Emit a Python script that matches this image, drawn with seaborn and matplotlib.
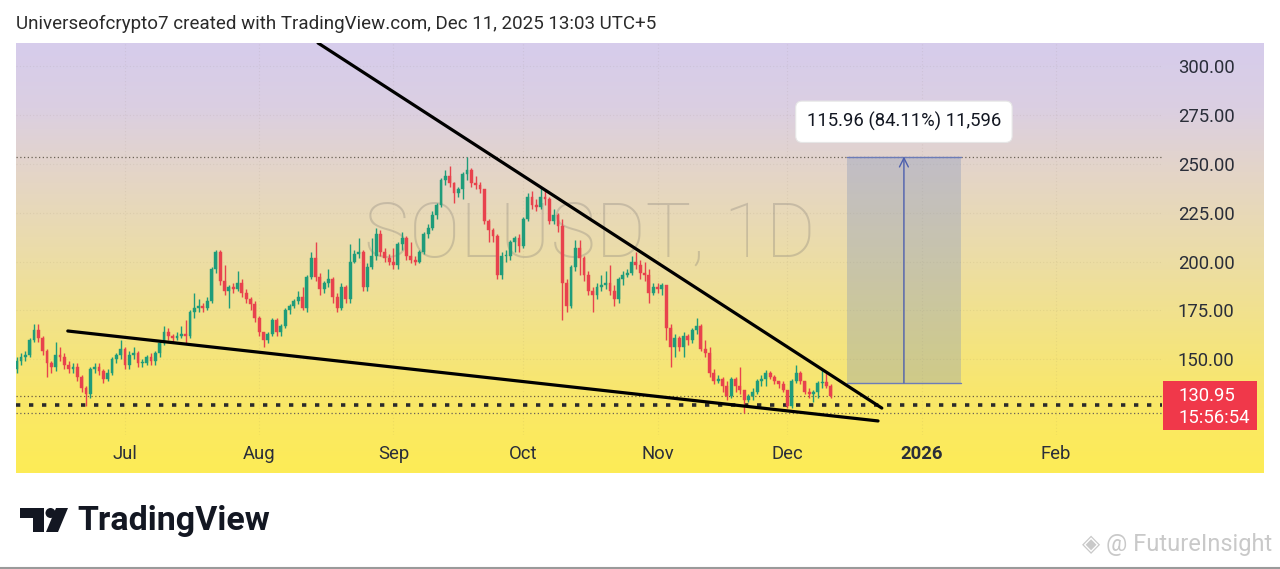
import numpy as np
import pandas as pd
import matplotlib
matplotlib.use("Agg")
import matplotlib.pyplot as plt
import matplotlib.dates as mdates
import seaborn as sns
from matplotlib.patches import Rectangle, Polygon, Ellipse
from matplotlib.lines import Line2D
from matplotlib.transforms import blended_transform_factory

sns.set_style("white")
plt.rcParams["font.family"] = ["Roboto", "DejaVu Sans"]

# ---------------- data (SOLUSDT daily) ----------------
start_date = "2025-06-06"
first_open = 145.0

closes_jun = [149, 151, 152, 160, 165, 161, 154, 148, 146, 152, 151, 147, 145, 146, 141, 135, 132, 145, 146, 144, 140, 143, 150, 152, 155]
highs_jun = [151, 153, 154, 161, 168, 168, 162, 155, 149, 159, 156, 153, 149, 148, 148, 142, 136, 146, 148, 148, 145, 145, 151, 153, 160]
lows_jun = [143, 147, 149, 151, 159, 159, 152, 141, 143, 144, 149, 145, 143, 143, 139, 133, 126, 130, 143, 142, 138, 139, 142, 148, 150]

closes_jul = [147, 152, 153, 148, 148, 151, 149, 153, 158, 164, 162, 161, 162, 163, 162, 174, 176, 177, 176, 180, 196, 205, 190, 185, 187, 186, 189, 184, 181, 178, 171]
highs_jul = [156, 154, 156, 154, 150, 152, 153, 154, 160, 167, 166, 163, 164, 167, 170, 175, 184, 181, 179, 182, 197, 206, 206, 198, 188, 189, 195, 191, 186, 182, 180]
lows_jul = [145, 145, 150, 146, 146, 147, 147, 147, 151, 157, 160, 159, 160, 161, 158, 161, 171, 174, 174, 175, 179, 194, 188, 183, 176, 184, 185, 182, 179, 175, 169]

closes_aug = [164, 160, 163, 170, 164, 167, 175, 177, 180, 182, 176, 192, 202, 192, 186, 189, 191, 182, 176, 187, 181, 200, 204, 205, 187, 197, 203, 214, 205, 202, 200]
highs_aug = [172, 164, 164, 171, 171, 168, 176, 178, 181, 185, 187, 193, 205, 210, 194, 190, 196, 192, 184, 189, 188, 209, 206, 212, 206, 199, 212, 217, 216, 207, 204]
lows_aug = [162, 156, 158, 162, 162, 162, 166, 173, 176, 178, 175, 174, 191, 190, 183, 184, 187, 179, 174, 175, 179, 179, 199, 202, 185, 185, 196, 201, 203, 200, 198]

closes_sep = [198, 209, 212, 203, 201, 200, 205, 214, 217, 224, 229, 242, 244, 240, 235, 237, 245, 247, 240, 239, 237, 221, 216, 213, 193, 203, 203, 210, 212, 208]
highs_sep = [207, 210, 215, 213, 210, 203, 206, 215, 219, 226, 230, 243, 247, 249, 241, 238, 246, 253.6, 248, 244, 241, 237, 222, 217, 214, 205, 206, 211, 213, 214]
lows_sep = [196, 196, 206, 201, 199, 198, 199, 204, 212, 216, 222, 228, 239, 238, 230, 233, 232, 242, 238, 237, 235, 219, 210, 210, 191, 191, 200, 201, 205, 205]

closes_oct = [222, 233, 229, 228, 233, 232, 221, 224, 218, 189, 177, 197, 207, 202, 193, 185, 183, 187, 188, 189, 185, 181, 191, 193, 194, 200, 198, 194, 193, 184, 187]
highs_oct = [223, 235, 236, 232, 238, 237, 233, 227, 225, 222, 191, 198, 211, 211, 203, 195, 187, 189, 193, 195, 198, 188, 192, 195, 196, 203, 205, 201, 200, 196, 189]
lows_oct = [207, 221, 227, 226, 227, 229, 219, 219, 215, 170, 174, 176, 195, 193, 190, 183, 174, 181, 185, 186, 183, 177, 179, 188, 192, 193, 196, 191, 190, 179, 183]

closes_nov = [186, 188, 166, 156, 161, 156, 162, 160, 165, 167, 155, 153, 143, 139, 140, 136, 131, 140, 136, 134, 129, 131, 133, 139, 140, 143, 141, 139, 137, 134]
highs_nov = [189, 189, 188, 168, 163, 162, 164, 163, 166, 171, 168, 160, 156, 145, 142, 141, 139, 141, 141, 146, 134, 132, 135, 140, 142, 144.5, 144, 142, 139, 139]
lows_nov = [184, 183, 160, 146, 151, 154, 151, 157, 158, 163, 154, 151, 141, 137, 138, 133, 129, 130, 133, 132, 122.5, 128, 129, 132, 136, 136, 140, 137, 135, 133]

closes_dec = [126, 139, 143, 139, 133, 132, 133, 138, 138.5, 136, 130.95]
highs_dec = [134, 140, 147, 144, 139, 135, 134, 139, 144.5, 143, 137]
lows_dec = [125, 125, 138, 137, 132, 130, 128, 130, 135, 135, 130]

# drawings
upper_trend_dates = ["2025-08-14 14:00", "2025-12-22 19:00"]
upper_trend_prices = [312.0, 124.9]
lower_trend_dates = ["2025-06-17 19:00", "2025-12-21 22:00"]
lower_trend_prices = [164.4, 118.3]
support_level = 126.5
measure_dates = ["2025-12-14 17:00", "2026-01-10 02:00"]
measure_low = 137.87
measure_high = 253.83

month_ticks = ["2025-07-01", "2025-08-01", "2025-09-01", "2025-10-01", "2025-11-01", "2025-12-01", "2026-01-01", "2026-02-01"]
month_labels = ["Jul", "Aug", "Sep", "Oct", "Nov", "Dec", "2026", "Feb"]
price_ticks = [150, 175, 200, 225, 250, 275, 300]

header = "Universeofcrypto7 created with TradingView.com, Dec 11, 2025 13:03 UTC+5"
countdown = "15:56:54"
symbol_text = "SOLUSDT, 1D"

# ---------------- assemble ----------------
closes = closes_jun + closes_jul + closes_aug + closes_sep + closes_oct + closes_nov + closes_dec
highs = highs_jun + highs_jul + highs_aug + highs_sep + highs_oct + highs_nov + highs_dec
lows = lows_jun + lows_jul + lows_aug + lows_sep + lows_oct + lows_nov + lows_dec
opens = [first_open] + closes[:-1]
dates = pd.date_range(start_date, periods=len(closes), freq="D")
df = pd.DataFrame({"date": dates, "open": opens, "high": highs, "low": lows, "close": closes})
df["x"] = mdates.date2num(df["date"])

UP = "#1f9c7a"
DOWN = "#e8424d"

W, H = 1280, 569
fig = plt.figure(figsize=(W / 100, H / 100), dpi=100)
fig.patch.set_facecolor("white")

def fx(px):
    return px / W

def fy(py):
    return 1 - py / H

# background gradient panel
bg = fig.add_axes([fx(16), fy(473), fx(1248), 430 / H])
stops = [(0.0, (214, 204, 236)), (0.15, (219, 207, 226)), (0.30, (228, 213, 200)),
         (0.50, (236, 221, 166)), (0.70, (244, 228, 128)), (0.85, (250, 232, 102)),
         (1.0, (253, 236, 86))]
n = 300
pos = np.linspace(0, 1, n)
grad = np.zeros((n, 1, 3))
for c in range(3):
    grad[:, 0, c] = np.interp(pos, [s[0] for s in stops], [s[1][c] / 255 for s in stops])
bg.imshow(grad, aspect="auto", extent=[0, 1, 0, 1], origin="upper")
bg.set_xlim(0, 1)
bg.set_ylim(0, 1)
bg.axis("off")

# main price axes
ax = fig.add_axes([fx(16), fy(435), fx(1146), 392 / H])
ax.set_facecolor("none")
for s in ax.spines.values():
    s.set_visible(False)

jul1 = pd.Timestamp("2025-07-01")
ax.set_xlim(mdates.date2num(jul1 - pd.Timedelta(days=25.17)), mdates.date2num(jul1 + pd.Timedelta(days=239.5)))
ax.set_ylim(111.1, 312.0)

# faint grid
ax.set_xticks(mdates.date2num(pd.to_datetime(month_ticks)))
ax.set_yticks(price_ticks)
ax.grid(True, color="#7a6a50", alpha=0.10, lw=0.8, ls=(0, (1, 2)))
ax.set_axisbelow(True)

# watermark
ax.text(0.501, 0.508, symbol_text, transform=ax.transAxes, ha="center", va="center",
        fontsize=55, color="#857f78", alpha=0.32, fontweight="light", zorder=0.5)

# horizontal levels
hi_max = max(highs)
lo_min = min(lows)
last = closes[-1]
ax.axhline(hi_max, color="#6b6256", lw=0.9, ls=(0, (1, 2)), zorder=1)
ax.axhline(lo_min, color="#6b6256", lw=0.9, ls=(0, (1, 2)), zorder=1)
ax.axhline(last, color="#6b5a40", lw=0.9, ls=(0, (1, 2)), zorder=1)
ax.axhline(support_level, color="#2b2b2b", lw=2.6, ls=(0, (1.2, 2.4)), zorder=1)

# candles
colors = np.where(df["close"] >= df["open"], UP, DOWN)
ax.vlines(df["x"], df["low"], df["high"], colors=colors, lw=1.0, zorder=3)
body_bottom = np.minimum(df["open"], df["close"])
body_h = np.maximum(np.abs(df["close"] - df["open"]), 0.4)
ax.bar(df["x"], body_h, bottom=body_bottom, width=0.66, color=colors, edgecolor=colors, lw=0.3, zorder=4)

# trendlines (seaborn)
trend = pd.DataFrame({
    "x": list(mdates.date2num(pd.to_datetime(upper_trend_dates))) + list(mdates.date2num(pd.to_datetime(lower_trend_dates))),
    "y": upper_trend_prices + lower_trend_prices,
    "line": ["upper", "upper", "lower", "lower"],
})
sns.lineplot(data=trend, x="x", y="y", units="line", estimator=None, color="black", lw=2.3, ax=ax,
             legend=False, zorder=5)
ax.set_xlabel("")
ax.set_ylabel("")

# measurement box
m0, m1 = mdates.date2num(pd.to_datetime(measure_dates))
mid = (m0 + m1) / 2
ax.add_patch(Rectangle((m0, measure_low), m1 - m0, measure_high - measure_low,
                       facecolor="#7f92b8", alpha=0.33, edgecolor="none", zorder=2))
ax.plot([m0, m1], [measure_high, measure_high], color="#6c7cb8", lw=1.0, zorder=3)
ax.plot([m0, m1], [measure_low, measure_low], color="#6c7cb8", lw=1.0, zorder=3)
ax.annotate("", xy=(mid, measure_high), xytext=(mid, measure_low),
            arrowprops=dict(arrowstyle="->", color="#4d5fae", lw=1.0, mutation_scale=16,
                            shrinkA=0, shrinkB=0), zorder=4)
diff = measure_high - measure_low
pct = diff / measure_low * 100
ax.annotate(f"{diff:.2f} ({pct:.2f}%) {diff * 100:,.0f}", xy=(mid, measure_high), xytext=(0, 25),
            textcoords="offset points", ha="center", va="center", fontsize=13.3, color="#131722",
            bbox=dict(boxstyle="round,pad=0.6,rounding_size=0.35", fc="white", ec="#e6e6e6", lw=0.8),
            zorder=6)

# axis tick labels
ax.yaxis.tick_right()
ax.set_yticklabels([f"{v:.2f}" for v in price_ticks])
ax.tick_params(axis="y", length=0, pad=11.5, labelsize=13.3, labelcolor="#2a2e39")
ax.set_xticklabels(month_labels)
ax.tick_params(axis="x", length=0, pad=7, labelsize=13.3, labelcolor="#2a2e39")
for lbl in ax.get_xticklabels():
    if lbl.get_text() == "2026":
        lbl.set_fontweight("bold")

# last price label
ppu = 392 / (312.0 - 111.1)
tr = blended_transform_factory(ax.transAxes, ax.transData)
ax.add_patch(Rectangle((1.0009, last - 34 / ppu), 0.082, 49 / ppu, transform=tr,
                       facecolor="#f0384a", edgecolor="none", clip_on=False, zorder=6))
ax.text(1.0140, last, f"{last:.2f}", transform=tr, ha="left", va="center", fontsize=13.3,
        color="white", clip_on=False, zorder=7)
ax.text(1.0140, last - 22 / ppu, countdown, transform=tr, ha="left", va="center", fontsize=13.3,
        color="white", clip_on=False, zorder=7)

# header
fig.text(fx(16), fy(24), header, ha="left", va="center", fontsize=13.5, color="#2a2a2a")

# TradingView logo
fig.add_artist(Polygon([(fx(20), fy(508)), (fx(44), fy(508)), (fx(44), fy(532)), (fx(33), fy(532)),
                        (fx(33), fy(518)), (fx(20), fy(518))], closed=True, transform=fig.transFigure,
                       facecolor="#131722", edgecolor="none"))
fig.add_artist(Ellipse((fx(50.5), fy(513)), 10 / W, 10 / H, transform=fig.transFigure,
                       facecolor="#131722", edgecolor="none"))
fig.add_artist(Polygon([(fx(56), fy(508)), (fx(68), fy(508)), (fx(58), fy(532)), (fx(46), fy(532))],
                       closed=True, transform=fig.transFigure, facecolor="#131722", edgecolor="none"))
fig.text(fx(77), fy(521), "TradingView", ha="left", va="center", fontsize=24.5, fontweight="bold",
         color="#131722")

# source watermark
fig.text(fx(1272), fy(545), "\u25c8 @ FutureInsight", ha="right", va="center", fontsize=17,
         color="#c9c9c9", family=["Roboto", "DejaVu Sans"])
fig.add_artist(Line2D([0, 1], [fy(567.5), fy(567.5)], transform=fig.transFigure, color="#9a9a9a", lw=1.5))

fig.savefig("out.png", dpi=100, facecolor="white")
